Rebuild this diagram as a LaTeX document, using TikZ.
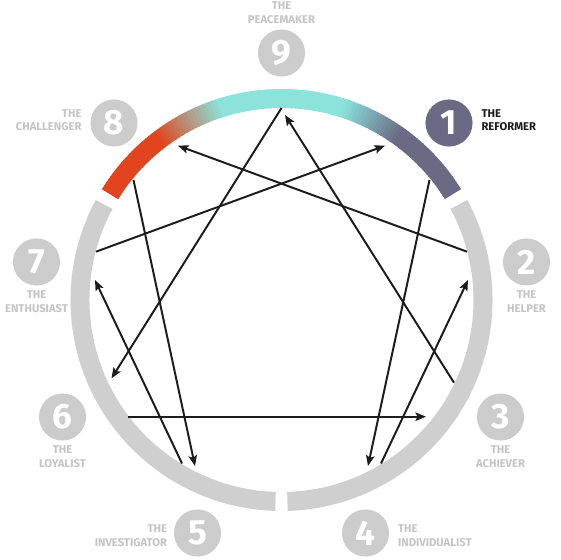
\documentclass[tikz,border=0pt]{standalone}
\usepackage{fontspec}
\setmainfont{Fira Sans}
\usepackage{xcolor}
\usetikzlibrary{arrows.meta}
\usetikzlibrary{positioning}
\definecolor{ringgrey}{HTML}{CFCFCF}
\definecolor{numgrey}{HTML}{CCCCCC}
\definecolor{labelgrey}{HTML}{C4C4C4}
\definecolor{ringred}{HTML}{E1441E}
\definecolor{ringcyan}{HTML}{8BE3DC}
\definecolor{ringpurple}{HTML}{6B6A84}
\definecolor{linedark}{HTML}{1C1C1C}
\tikzstyle{number} = [circle, minimum size=33.5pt, inner sep=0pt, fill=numgrey, text=white, font=\fontsize{25}{25}\selectfont\bfseries]
\tikzstyle{typetext} = [inner sep=0pt, text=labelgrey, font=\fontsize{8}{9.9}\selectfont\bfseries]
\tikzstyle{arrow} = [line width=1.4pt, draw=linedark, -{Stealth[length=7.5pt,width=6pt,inset=1.5pt]}]

\begin{document}
\begin{tikzpicture}[x=0.25mm, y=0.25mm]
    \useasboundingbox (-281.5,-260) rectangle (278.5,300);
    % grey parts of the ring
    \fill[ringgrey] (151.7:192) arc[start angle=151.7, end angle=268.3, radius=192] -- (268.3:211) arc[start angle=268.3, end angle=151.7, radius=211] -- cycle;
    \fill[ringgrey] (-88.3:192) arc[start angle=-88.3, end angle=28.3, radius=192] -- (28.3:211) arc[start angle=28.3, end angle=-88.3, radius=211] -- cycle;
    % coloured top part, purple -> cyan -> red
    \foreach \i in {0,...,58} {
        \pgfmathsetmacro\angA{31.7+\i}
        \pgfmathsetmacro\angB{min(\angA+1.4,90.5)}
        \pgfmathsetmacro\mix{max(0,min(100,(\angA-54)/18*100))}
        \fill[ringcyan!\mix!ringpurple] (\angA:192) arc[start angle=\angA, end angle=\angB, radius=192] -- (\angB:211) arc[start angle=\angB, end angle=\angA, radius=211] -- cycle;
    }
    \foreach \i in {0,...,58} {
        \pgfmathsetmacro\angA{90+\i}
        \pgfmathsetmacro\angB{min(\angA+1.4,148.3)}
        \pgfmathsetmacro\mix{max(0,min(100,(127-\angA)/20*100))}
        \fill[ringcyan!\mix!ringred] (\angA:192) arc[start angle=\angA, end angle=\angB, radius=192] -- (\angB:211) arc[start angle=\angB, end angle=\angA, radius=211] -- cycle;
    }
    % the nine types
    \node(n9)[number] at (0,247) {9};
    \node(n1)[number, fill=ringpurple] at (167.5,177) {1};
    \node(n2)[number] at (245,38) {2};
    \node(n3)[number] at (219,-117) {3};
    \node(n4)[number] at (84,-233) {4};
    \node(n5)[number] at (-84,-233) {5};
    \node(n6)[number] at (-219,-117) {6};
    \node(n7)[number] at (-245,38) {7};
    \node(n8)[number] at (-167.5,177) {8};
    \node(t9)[typetext, align=center, above=4pt of n9] {THE\\PEACEMAKER};
    \node(t1)[typetext, align=left, text=linedark, right=6pt of n1, yshift=2pt] {THE\\REFORMER};
    \node(t2)[typetext, align=center, below=3.5pt of n2] {THE\\HELPER};
    \node(t3)[typetext, align=center, below=3.5pt of n3] {THE\\ACHIEVER};
    \node(t4)[typetext, align=left, right=6pt of n4, yshift=-2pt] {THE\\INDIVIDUALIST};
    \node(t5)[typetext, align=right, left=4.5pt of n5, yshift=-2pt] {THE\\INVESTIGATOR};
    \node(t6)[typetext, align=center, below=3.5pt of n6] {THE\\LOYALIST};
    \node(t7)[typetext, align=center, below=3.5pt of n7] {THE\\ENTHUSIAST};
    \node(t8)[typetext, align=right, left=6pt of n8, yshift=2pt] {THE\\CHALLENGER};
    % line ends on the inner edge of the ring
    \coordinate(o9) at (0,192);       \coordinate(i9) at (3.5,185);
    \coordinate(o1) at (148,120);     \coordinate(i1) at (103.5,154.3);
    \coordinate(o2) at (185.5,48.3);  \coordinate(i2) at (186.5,20);
    \coordinate(o3) at (172.5,-82.7); \coordinate(i3) at (144.5,-116.7);
    \coordinate(o4) at (99.5,-163.5); \coordinate(i4) at (86.5,-166);
    \coordinate(o5) at (-99.5,-163.5);\coordinate(i5) at (-86.5,-166);
    \coordinate(o6) at (-153.2,-116.7);\coordinate(i6) at (-170,-78.3);
    \coordinate(o7) at (-185.5,48.3); \coordinate(i7) at (-186.5,20);
    \coordinate(o8) at (-148,120);    \coordinate(i8) at (-103.5,154.3);
    \draw[arrow](o9)--(i6);
    \draw[arrow](o6)--(i3);
    \draw[arrow](o3)--(i9);
    \draw[arrow](o1)--(i4);
    \draw[arrow](o4)--(i2);
    \draw[arrow](o2)--(i8);
    \draw[arrow](o8)--(i5);
    \draw[arrow](o5)--(i7);
    \draw[arrow](o7)--(i1);
\end{tikzpicture}
\end{document}
